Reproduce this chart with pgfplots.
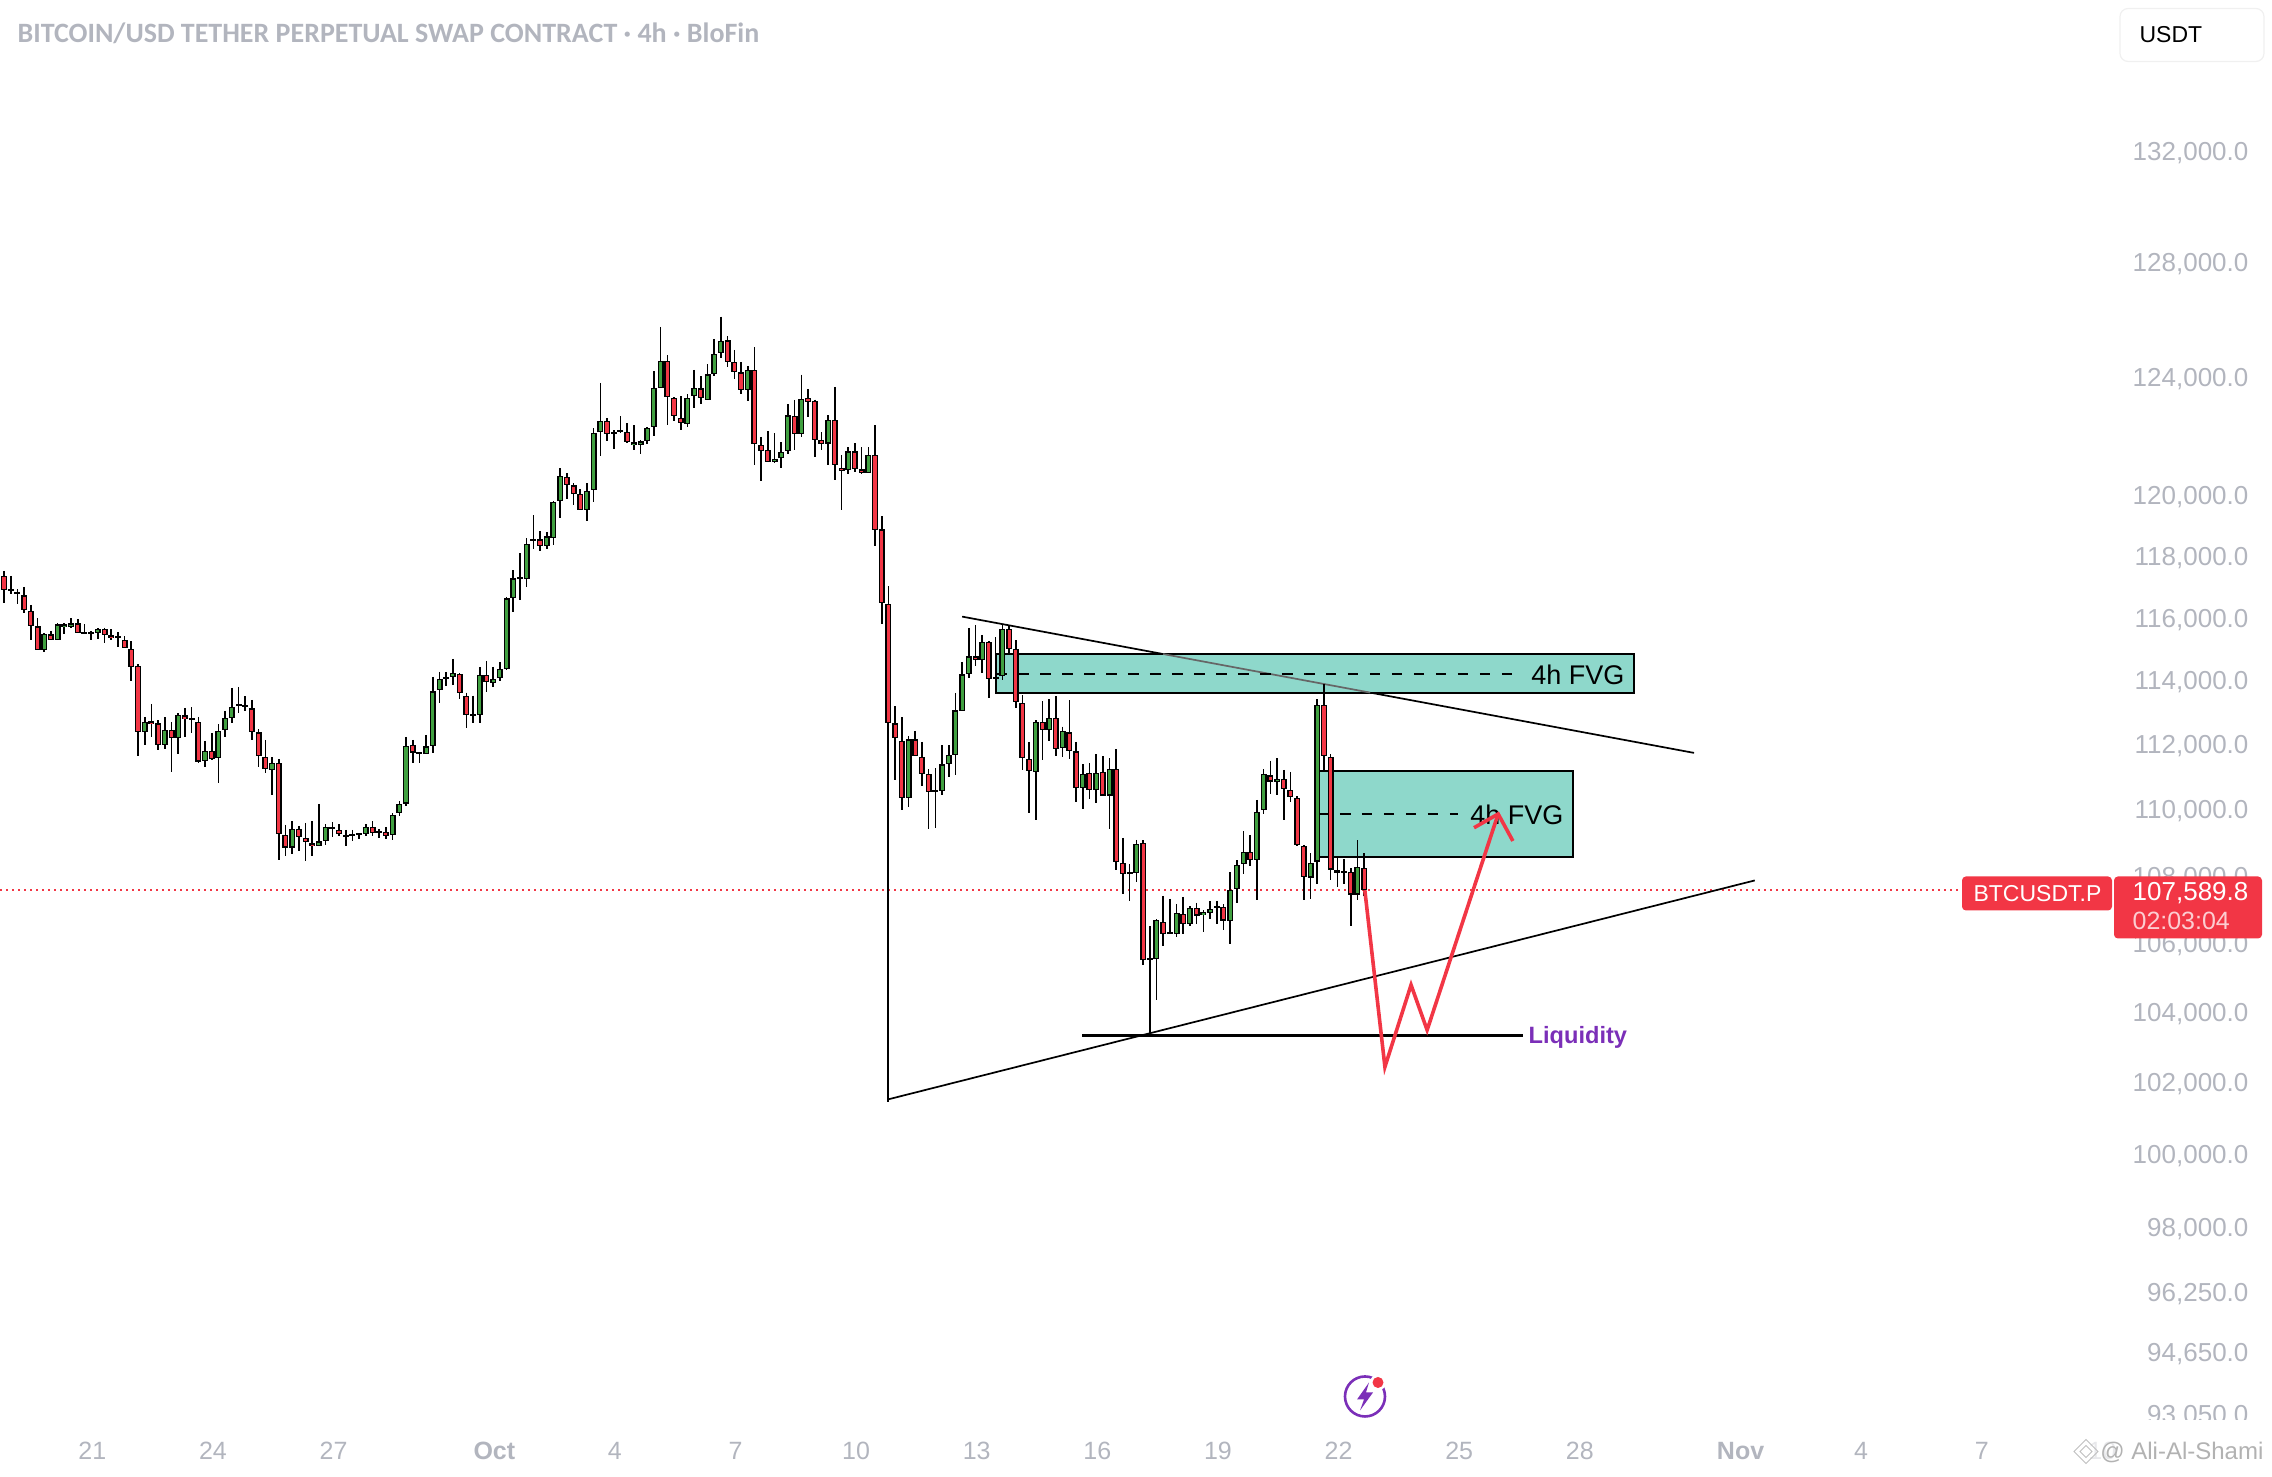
\documentclass[border=0pt]{standalone}
\usepackage{pgfplots}
\usepackage{pgfplotstable}
\usepackage{fontspec}
\pgfplotsset{compat=1.18}
\setmainfont{Liberation Sans}
\newfontfamily\titlefont{Carlito}
\definecolor{tvred}{RGB}{242,54,69}
\definecolor{tvgreen}{RGB}{64,160,64}
\definecolor{tvgrey}{RGB}{178,181,190}
\definecolor{fvg}{RGB}{142,216,203}
\definecolor{liq}{RGB}{123,47,184}
% k = 4h candle number, open high low close
\pgfplotstableread{
k o h l c
0 117360 117530 116500 116900
1 116920 117370 116770 116900
2 116830 116940 116470 116820
3 116740 117010 116180 116260
4 116230 116430 115320 115745
5 115745 116000 114980 114980
6 114980 115520 114930 115490
7 115480 115600 115300 115310
8 115310 115840 115300 115800
9 115720 115840 115510 115810
10 115720 116000 115680 115830
11 115830 115970 115520 115520
12 115540 115810 115480 115510
13 115550 115600 115320 115530
14 115520 115680 115350 115660
15 115670 115700 115220 115460
16 115450 115650 115320 115360
17 115425 115550 115080 115400
18 115320 115425 115040 115050
19 115030 115265 113990 114440
20 114490 114530 111670 112400
21 112400 112880 112010 112730
22 112740 113280 112260 112640
23 112670 112770 111830 111990
24 111990 112870 111890 112480
25 112480 112720 111180 112210
26 112210 112990 111730 112930
27 112920 113160 112240 112800
28 112820 113180 112360 112800
29 112710 112880 111430 111490
30 111500 112130 111330 111830
31 111830 112380 111550 111570
32 111600 112650 110840 112450
33 112460 113050 112260 112860
34 112835 113790 112670 113200
35 113240 113820 113010 113270
36 113240 113530 113070 113180
37 113140 113410 112150 112400
38 112390 112490 111330 111650
39 111640 112160 111150 111250
40 111220 111630 110470 111460
41 111460 111560 108500 109270
42 109260 109550 108620 108870
43 108870 109660 108680 109440
44 109440 109520 108770 109180
45 109170 109610 108470 109040
46 108995 109670 108620 108910
47 108910 110190 108910 109050
48 109060 109580 108950 109500
49 109440 109640 109200 109500
50 109410 109580 109210 109280
51 109190 109400 108920 109260
52 109240 109400 109050 109260
53 109270 109300 109110 109300
54 109270 109580 109230 109500
55 109500 109670 109210 109310
56 109350 109430 109140 109320
57 109350 109490 109110 109210
58 109240 109900 109080 109860
59 109900 110270 109820 110200
60 110200 112250 110130 111970
61 112010 112160 111460 111765
62 111770 111780 111430 111760
63 111710 112315 111710 111960
64 111960 114130 111765 113680
65 113710 114290 113320 114080
66 114070 114290 113860 114110
67 114120 114700 113870 114250
68 114220 114260 113450 113620
69 113530 113640 112540 112920
70 112950 113540 112700 112930
71 112920 114450 112700 114190
72 114190 114640 113660 113955
73 113930 114450 113800 114080
74 114090 114610 114010 114380
75 114380 116690 114345 116640
76 116640 117550 116215 117290
77 117290 118110 116600 117330
78 117260 118600 117020 118425
79 118510 119360 118260 118560
80 118560 118840 118190 118340
81 118340 118810 118230 118660
82 118610 119820 118390 119810
83 119830 120920 119250 120675
84 120640 120750 119910 120360
85 120340 120420 119680 120050
86 120075 120220 119520 119530
87 119530 120420 119150 120160
88 120190 122270 119780 122120
89 122140 123810 121340 122530
90 122530 122610 121850 122075
91 122100 122190 121580 122130
92 122170 122670 122090 122200
93 122150 122440 121780 121790
94 121690 122370 121540 121790
95 121700 121860 121380 121820
96 121820 122300 121750 122270
97 122300 124220 122020 123650
98 123630 125750 123630 124580
99 124580 124760 122390 123320
100 123310 123320 122530 122670
101 122630 123350 122190 122440
102 122400 123420 122320 123310
103 123350 124260 122970 123650
104 123620 124040 123100 123300
105 123220 124460 123220 124100
106 124110 125330 124060 124820
107 124830 126100 124650 125270
108 125270 125420 124370 124520
109 124545 124945 123960 124180
110 124170 124520 123450 123560
111 123560 124380 123200 124270
112 124270 125040 121040 121725
113 121710 121970 120510 121490
114 121540 122170 121120 121140
115 121140 122100 121110 121240
116 121250 121790 120940 121480
117 121490 123080 121410 122700
118 122700 123230 121540 122060
119 122060 124090 121970 123270
120 123310 123590 122660 123150
121 123180 123240 121310 121870
122 121880 122130 121540 121750
123 121750 122710 121010 122560
124 122560 123675 120530 121030
125 120940 121365 119530 120820
126 120865 121620 120710 121480
127 121480 121760 120780 120900
128 120880 121620 120710 120750
129 120765 121620 120750 121380
130 121380 122370 118330 118875
131 118890 119325 115800 116480
132 116470 117030 112500 112680
133 112670 113210 110930 112220
134 112140 112870 109990 110360
135 110360 112280 110080 112180
136 112180 112440 111650 111660
137 111640 112100 110750 111100
138 111100 111250 109440 110545
139 110580 111290 109470 110610
140 110580 112000 110470 111400
141 111410 112000 111000 111700
142 111690 113630 111060 113080
143 113060 114610 113060 114210
144 114220 115690 114110 114780
145 114780 115790 114490 114670
146 114660 115470 114270 115250
147 115250 115280 113460 114070
148 114070 115400 114060 114130
149 114155 115790 114020 115670
150 115670 115750 114850 115010
151 115030 115300 113140 113340
152 113320 113555 111240 111600
153 111580 112100 109925 111190
154 111160 112770 109710 112730
155 112730 113365 111550 112470
156 112470 113430 112110 112855
157 112855 113520 111670 111880
158 111900 112575 111640 112450
159 112390 113400 111580 111810
160 111800 112100 110260 110670
161 110670 111410 110020 111120
162 111150 111440 110350 110610
163 110610 111710 110230 111150
164 111180 111650 110440 110440
165 110440 111590 109430 111270
166 111270 111870 108200 108430
167 108410 109160 107460 108060
168 108095 108360 107280 108115
169 108105 109100 107820 108985
170 109015 109090 105395 105520
171 105550 106530 103410 105580
172 105550 106730 104380 106700
173 106660 107420 105950 106295
174 106315 107330 106285 106335
175 106285 107180 106190 106920
176 106890 107390 106305 106590
177 106580 107110 106520 107070
178 107070 107210 106600 106830
179 106845 106990 106360 106940
180 106910 107270 106720 107040
181 107070 107270 106600 107130
182 107100 107170 106420 106680
183 106680 108135 106010 107610
184 107620 108480 107220 108350
185 108360 109360 108085 108740
186 108740 109250 108320 108490
187 108490 110310 107310 109955
188 110000 111250 109880 111100
189 111060 111510 110500 110870
190 110860 111600 110470 110965
191 110955 111230 109710 110640
192 110630 111170 110260 110390
193 110380 110430 108925 108940
194 108910 108950 107310 107985
195 107965 108690 107340 108410
196 108440 113430 107760 113260
197 113260 113900 111200 111660
198 111640 111710 107880 108200
199 108105 108560 107690 108185
200 108125 108520 107760 108155
201 108145 108245 106540 107450
202 107450 109080 107310 108285
203 108265 108690 107420 107590
}\candles
\begin{document}
\begin{tikzpicture}
\useasboundingbox (0,0.5pt) rectangle (757.33pt,492.5pt);
\clip (0,0.5pt) rectangle (757.33pt,492.5pt);
\begin{axis}[
  at={(0,0)}, anchor=south west,
  scale only axis, width=757.33pt, height=492pt,
  xmin=-0.6, xmax=338.5,
  ymode=log, ymin=91456, ymax=137622,
  axis line style={draw=none},
  major tick length=0pt, minor tick length=0pt,
  yticklabel pos=right,
  ytick={132000,128000,124000,120000,118000,116000,114000,112000,110000,108000,106000,104000,102000,100000,98000,96250,94650,93050},
  yticklabels={{132,000.0},{128,000.0},{124,000.0},{120,000.0},{118,000.0},{116,000.0},{114,000.0},{112,000.0},{110,000.0},{108,000.0},{106,000.0},{104,000.0},{102,000.0},{100,000.0},{98,000.0},{96,250.0},{94,650.0},{93,050.0}},
  y tick label style={anchor=east, xshift=-7.67pt, yshift=-0.45pt, inner sep=0pt, text=tvgrey, font=\fontsize{8.67}{10}\selectfont},
  xtick={13,31,49,73,91,109,127,145,163,181,199,217,235,259,277,295,313},
  xticklabels={21,24,27,\textbf{Oct},4,7,10,13,16,19,22,25,28,\textbf{Nov},4,7,10},
  x tick label style={anchor=center, xshift=0.4pt, yshift=8.67pt, inner sep=0pt, text=tvgrey, font=\fontsize{8.33}{10}\selectfont},
]
% last price line
\addplot[forget plot, tvred, line width=0.67pt, dash pattern=on 0.67pt off 1.33pt] coordinates {(-0.6,107590)(292.2,107590)};
% falling trend line
\addplot[forget plot, black, line width=0.57pt] coordinates {(143,116055)(252.24,111755)};
% FVG boxes
\addplot[forget plot, draw=black, fill=fvg, line width=0.67pt] coordinates {(148.06,114850)(243.28,114850)(243.28,113637)(148.06,113637)(148.06,114850)};
\addplot[forget plot, draw=black, fill=fvg, line width=0.67pt] coordinates {(196.1,111202)(234.2,111202)(234.2,108584)(196.1,108584)(196.1,111202)};
\addplot[forget plot, black!60, line width=0.57pt] coordinates {(173,114857)(203.9,113637)};
\addplot[forget plot, black, line width=0.67pt, dash pattern=on 3.53pt off 3.8pt] coordinates {(148.06,114238)(225.07,114238)};
\addplot[forget plot, black, line width=0.67pt, dash pattern=on 3.53pt off 3.8pt] coordinates {(196.1,109894)(217,109894)};
% wicks
\addplot[forget plot, draw=none, mark=none, error bars/.cd, y dir=minus, y explicit, error mark=none,
  error bar style={draw=black, line width=0.55pt}]
  table[x=k, y=h, y error minus expr={\thisrow{h}-\thisrow{l}}] {\candles};
% bodies: outline
\addplot[forget plot, draw=none, mark=none, error bars/.cd, y dir=both, y explicit, error mark=none,
  error bar style={draw=black, line width=2pt}]
  table[x=k, y expr={(\thisrow{o}+\thisrow{c})/2},
        y error plus expr={max(abs(\thisrow{o}-\thisrow{c})/2,30)},
        y error minus expr={max(abs(\thisrow{o}-\thisrow{c})/2,30)}] {\candles};
% bodies: red core
\addplot[forget plot, draw=none, mark=none, error bars/.cd, y dir=both, y explicit, error mark=none,
  error bar style={draw=tvred, line width=1.03pt}]
  table[x=k, y expr={(\thisrow{o}+\thisrow{c})/2},
        y error plus expr={\thisrow{o}>\thisrow{c} ? max(abs(\thisrow{o}-\thisrow{c})/2-40,0) : 0},
        y error minus expr={\thisrow{o}>\thisrow{c} ? max(abs(\thisrow{o}-\thisrow{c})/2-40,0) : 0}] {\candles};
% bodies: green core
\addplot[forget plot, draw=none, mark=none, error bars/.cd, y dir=both, y explicit, error mark=none,
  error bar style={draw=tvgreen, line width=1.03pt}]
  table[x=k, y expr={(\thisrow{o}+\thisrow{c})/2},
        y error plus expr={\thisrow{o}<\thisrow{c} ? max(abs(\thisrow{o}-\thisrow{c})/2-40,0) : 0},
        y error minus expr={\thisrow{o}<\thisrow{c} ? max(abs(\thisrow{o}-\thisrow{c})/2-40,0) : 0}] {\candles};
% drawn lines
\addplot[forget plot, black, line width=0.5pt] coordinates {(131.94,112700)(131.94,101462)};
\addplot[forget plot, black, line width=0.57pt] coordinates {(131.94,101532)(261.3,107878)};
\addplot[forget plot, black, line width=0.73pt] coordinates {(160.9,103347)(226.7,103347)};
\node[font=\fontsize{9}{10}\selectfont, inner sep=0pt] at (axis cs:234.9,114200) {4h FVG};
\node[font=\fontsize{9}{10}\selectfont, inner sep=0pt] at (axis cs:225.8,109860) {4h FVG};
\node[font=\fontsize{7.87}{9}\selectfont\bfseries, text=liq, inner sep=0pt] at (axis cs:234.9,103300) {Liquidity};
\addplot[forget plot, tvred, line width=1.2pt, line join=miter] coordinates {(203.1,107590)(206.1,102450)(210,104802)(212.4,103504)(223,109883)};
\addplot[forget plot, tvred, line width=1.2pt, line join=miter] coordinates {(219.4,109467)(223,109883)(225.2,109065)};
\end{axis}
\begin{scope}[x=0.33333pt, y=-0.33333pt, yshift=492pt]
  % bottom cut of the price scale
  \fill[white] (2100,1419) rectangle (2272,1438);
  \node[font=\titlefont\bfseries\fontsize{9.33}{11}\selectfont, text=tvgrey, anchor=west, inner sep=0pt] at (17,32) {BITCOIN/USD TETHER PERPETUAL SWAP CONTRACT · 4h · BloFin};
  \draw[draw=black!6, line width=0.4pt, fill=white, rounded corners=2.7pt] (2120,7) rectangle (2264,60);
  \node[font=\fontsize{7.67}{9}\selectfont, anchor=west, inner sep=0pt] at (2139,33) {USDT};
  % price pills
  \fill[tvred, rounded corners=1.3pt] (1962,875) rectangle (2112,909);
  \fill[tvred, rounded corners=1.3pt] (2114,875) rectangle (2262,937);
  \node[font=\fontsize{7.67}{9}\selectfont, text=white, inner sep=0pt] at (2037.5,892) {BTCUSDT.P};
  \node[font=\fontsize{8.67}{10}\selectfont, text=white, anchor=east, inner sep=0pt] at (2249,892) {107,589.8};
  \node[font=\fontsize{8.33}{10}\selectfont, text=white!75!tvred, anchor=west, inner sep=0pt] at (2132,919) {02:03:04};
  % lightning icon
  \draw[liq, line width=0.87pt] (1365,1395) circle[radius=20];
  \fill[liq] (1369,1381) -- (1357,1398) -- (1364,1398) -- (1360,1409) -- (1373,1391) -- (1366,1391) -- cycle;
  \fill[white] (1378,1381) circle[radius=8];
  \fill[tvred] (1378,1381) circle[radius=5.5];
  % watermark
  \fill[white, opacity=0.7] (2070,1432) rectangle (2272,1468);
  \draw[black!25, line width=0.33pt] (2086,1438) -- (2098,1450) -- (2086,1462) -- (2074,1450) -- cycle;
  \draw[black!25, line width=0.33pt] (2086,1444) -- (2092,1450) -- (2086,1456) -- (2080,1450) -- cycle;
  \node[font=\fontsize{8}{10}\selectfont, text=black!30, anchor=east, inner sep=0pt] at (2264,1451) {@ Ali-Al-Shami};
\end{scope}
\end{tikzpicture}
\end{document}
